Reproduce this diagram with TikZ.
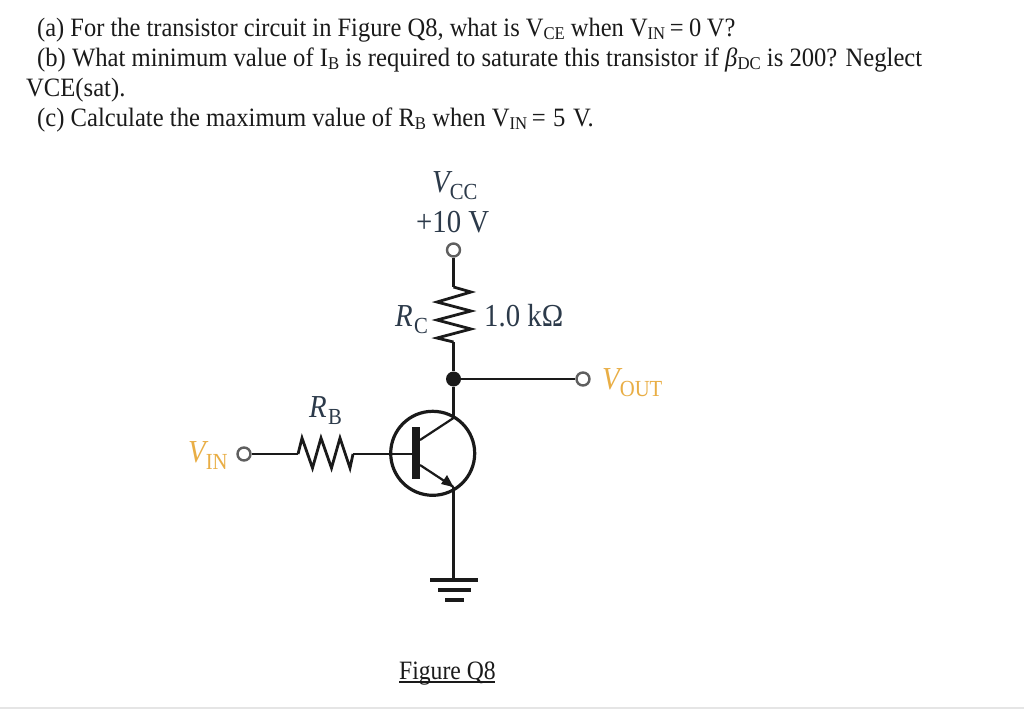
\documentclass[tikz,border=0pt]{standalone}
\usepackage{fontspec}
\setmainfont{Liberation Serif}
\definecolor{ink}{HTML}{1A1A1A}
\definecolor{lbl}{HTML}{2C3A4A}
\definecolor{org}{HTML}{E9AE45}
\newcommand{\sbs}[1]{\raisebox{-3pt}{\fontsize{18}{18}\selectfont #1}}
\newcommand{\lsbs}[1]{\raisebox{-7pt}{\fontsize{23}{23}\selectfont\kern-3pt #1}}
\newcommand{\rsbs}[1]{\raisebox{-7pt}{\fontsize{23}{23}\selectfont\kern1.5pt #1}}
\tikzset{
 wire/.style={line width=2.2pt,draw=ink},
 zig/.style={line width=2.8pt,draw=ink,line join=miter},
 term/.style={circle,draw=ink!70,line width=2.4pt,fill=white,minimum size=13pt,inner sep=0pt},
 dotj/.style={circle,fill=ink,minimum size=15pt,inner sep=0pt},
 para/.style={anchor=base west,inner sep=0pt,font=\fontsize{26.5}{26.5}\selectfont,text=ink,xscale=.93},
 clab/.style={anchor=base west,inner sep=0pt,font=\fontsize{32}{32}\selectfont,text=lbl,xscale=.9},
 olab/.style={clab,text=org},
}
\begin{document}
\begin{tikzpicture}[x=1pt,y=-1pt]
\useasboundingbox (0,0) rectangle (1024,710);
\fill[white] (0,0) rectangle (1024,710);
\fill[black!10] (0,707) rectangle (1024,708.5);
\node[para,xscale=.993] (la) at (37,36) {(a) For the transistor circuit in Figure Q8, what is V\sbs{CE} when V\sbs{IN}\kern5pt=\hspace{6pt}0\hspace{6pt}V?};
\node[para] (lb) at (37,66) {(b) What minimum value of I\sbs{B} is required to saturate this transistor if \textit{β}\sbs{DC} is 200? Neglect};
\node[para] (lc) at (26,96) {VCE(sat).};
\node[para] (ld) at (37,126) {(c) Calculate the maximum value of R\sbs{B} when V\sbs{IN}\hspace{5pt}=\hspace{8pt}5\hspace{8pt}V.};
% terminals and junctions
\coordinate (bus) at (453.5,379);
\node[term] (vcc) at (453.5,250) {};
\node[term] (vout) at (583,379) {};
\node[term] (vin) at (244,454) {};
\node[dotj] (j) at (bus) {};
\coordinate (rct) at (453.5,287);
\coordinate (rcb) at (453.5,342);
\coordinate (rbl) at (298,454);
\coordinate (rbr) at (353,454);
\coordinate (t) at (432.7,453.3);
\coordinate (cj) at (453.5,418);
\coordinate (ej) at (453.5,487);
\coordinate (gnd) at (453.5,580);
\coordinate (bb) at (412,454);
\draw[wire] (vcc) -- (rct);
\draw[zig] (rct) -- (471,292) -- (437,302) -- (471,311) -- (437,320) -- (471,329) -- (437,338) -- (rcb);
\draw[wire] (rcb) -- (j);
\draw[wire] (j) -- (vout);
\draw[wire] (j) -- (cj);
\draw[wire] (vin) -- (rbl);
\draw[zig] (rbl) -- (302,438) -- (312.5,468) -- (321,438) -- (331.5,468) -- (340,438) -- (350,468) -- (rbr);
\draw[wire] (rbr) -- (bb);
\node[circle,draw=ink,line width=3.2pt,minimum size=84pt,inner sep=0pt] (q) at (t) {};
\fill[ink] (412,427) rectangle (420,479);
\draw[wire] (420,440) -- (cj);
\draw[wire] (420,465) -- (ej);
\fill[ink] (453.5,487) -- (441,484) -- (447,475) -- cycle;
\draw[wire] (ej) -- (gnd);
\draw[ink,line width=4pt] (430,580) -- (478,580);
\draw[ink,line width=4pt] (438,590) -- (471,590);
\draw[ink,line width=4pt] (445,600) -- (464,600);
% labels
\node[clab] (lvcc) at (432,192) {\textit{V}\lsbs{CC}};
\node[clab] (l10) at (416,232) {+10 V};
\node[clab] (lrc) at (395,326) {\textit{R}\rsbs{C}};
\node[clab] (lk) at (484,326) {1.0 kΩ};
\node[olab] (lvo) at (602,389) {\textit{V}\lsbs{OUT}};
\node[clab] (lrb) at (309,417) {\textit{R}\rsbs{B}};
\node[olab] (lvi) at (188,462) {\textit{V}\lsbs{IN}};
\node[para,xscale=.96] (fig) at (399,679) {Figure Q8};
\draw[ink,line width=1.6pt] (399,682) -- (495,682);
\end{tikzpicture}
\end{document}
